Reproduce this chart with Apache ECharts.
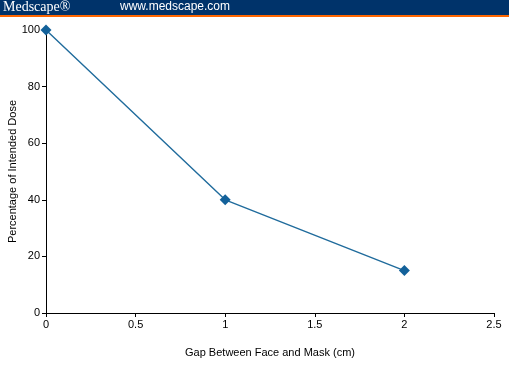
<!DOCTYPE html>
<html><head><meta charset="utf-8">
<script src="https://cdn.jsdelivr.net/npm/echarts@6/dist/echarts.min.js"></script>
<style>html,body{margin:0;padding:0;background:#fff}#c{width:509px;height:365px}</style>
</head><body><div id="c"></div>
<script>
const gaps = [0, 1, 2];
const dose = [100, 40, 15];
const xTicks = [0, 0.5, 1, 1.5, 2, 2.5];
const yTicks = [0, 20, 40, 60, 80, 100];
const chart = echarts.init(document.getElementById('c'), null, {renderer: 'canvas'});
const font = '"Liberation Sans", Arial, sans-serif';
chart.setOption({
  animation: false,
  backgroundColor: '#fff',
  graphic: [
    {type: 'rect', shape: {x: 0, y: 0, width: 509, height: 15}, style: {fill: '#00336a'}},
    {type: 'rect', shape: {x: 0, y: 15, width: 509, height: 2}, style: {fill: '#ff6600'}},
    {type: 'text', left: 3, top: 0, style: {text: 'Medscape®', fill: '#fff', font: '14px "Liberation Serif", serif'}},
    {type: 'text', left: 120, top: 1, style: {text: 'www.medscape.com', fill: '#fff', font: '12px "Liberation Sans", Arial, sans-serif'}}
  ],
  grid: {left: 46, right: 15, top: 30, bottom: 52, containLabel: false, outerBoundsMode: 'none'},
  xAxis: {
    type: 'value', min: 0, max: 2.5, interval: 0.5,
    name: 'Gap Between Face and Mask (cm)', nameLocation: 'middle', nameGap: 34,
    nameTextStyle: {fontFamily: font, fontSize: 11, color: '#000'},
    axisLine: {lineStyle: {color: '#000', width: 1}},
    axisTick: {show: true, length: 4, lineStyle: {color: '#000'}},
    axisLabel: {color: '#000', fontFamily: font, fontSize: 11, margin: 6},
    splitLine: {show: false}
  },
  yAxis: {
    type: 'value', min: 0, max: 100, interval: 20,
    name: 'Percentage of Intended Dose', nameLocation: 'middle', nameGap: 28,
    nameMoveOverlap: false,
    nameTextStyle: {fontFamily: font, fontSize: 11, color: '#000'},
    axisLine: {show: true, lineStyle: {color: '#000', width: 1}},
    axisTick: {show: true, length: 4, lineStyle: {color: '#000'}},
    axisLabel: {color: '#000', fontFamily: font, fontSize: 11, margin: 6},
    splitLine: {show: false}
  },
  series: [{
    type: 'line',
    data: gaps.map((g, i) => [g, dose[i]]),
    symbol: 'diamond', symbolSize: 11,
    lineStyle: {color: '#1f6b9c', width: 1.4},
    itemStyle: {color: '#13619a'},
    clip: false
  }]
});
</script></body></html>
